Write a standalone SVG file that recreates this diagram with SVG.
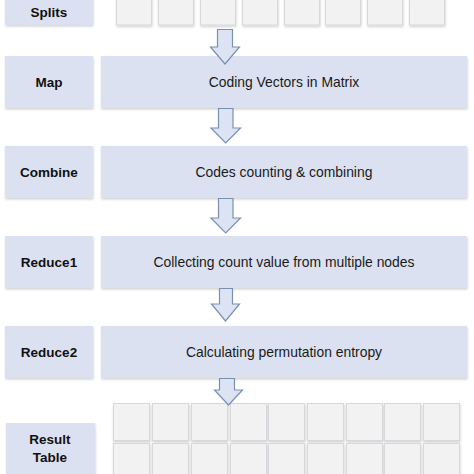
<svg xmlns="http://www.w3.org/2000/svg" width="474" height="474" viewBox="0 0 474 474">
<defs>
<filter id="sh" x="-10%" y="-10%" width="120%" height="130%">
<feDropShadow dx="0.5" dy="1.5" stdDeviation="1" flood-color="#000" flood-opacity="0.18"/>
</filter>
</defs>
<style>
.box{fill:#dbe1f0;filter:url(#sh)}
.cell{fill:#f2f2f3;stroke:#d6d8dc;stroke-width:1;filter:url(#sh)}
.arr{fill:#dce4f3;stroke:#7a90b3;stroke-width:1.2;stroke-linejoin:miter}
.lbl{font-family:"Liberation Sans",Arial,sans-serif;font-weight:bold;font-size:13.5px;fill:#111;text-anchor:middle}
.txt{font-family:"Liberation Sans",Arial,sans-serif;font-size:13.9px;fill:#1a1a1a;text-anchor:middle}
</style>
<rect width="474" height="474" fill="#fff"/>
<g id="splits">
<rect class="box" x="5" y="-4" width="88" height="29"/>
<text class="lbl" x="49" y="17">Splits</text>
<rect class="cell" x="116.5" y="-2" width="35" height="27"/>
<rect class="cell" x="158.5" y="-2" width="35" height="27"/>
<rect class="cell" x="200.5" y="-2" width="35" height="27"/>
<rect class="cell" x="242.5" y="-2" width="35" height="27"/>
<rect class="cell" x="284.5" y="-2" width="35" height="27"/>
<rect class="cell" x="325.5" y="-2" width="35" height="27"/>
<rect class="cell" x="367.5" y="-2" width="35" height="27"/>
<rect class="cell" x="409.5" y="-2" width="35" height="27"/>
</g>
<g id="map">
<rect class="box" x="5" y="56" width="88" height="52"/>
<text class="lbl" x="49" y="87">Map</text>
<rect class="box" x="101" y="56" width="366" height="52"/>
<text class="txt" x="284" y="87">Coding Vectors in Matrix</text>
</g>
<g id="combine">
<rect class="box" x="5" y="146" width="88" height="52"/>
<text class="lbl" x="49" y="177">Combine</text>
<rect class="box" x="101" y="146" width="366" height="52"/>
<text class="txt" x="284" y="177">Codes counting &amp; combining</text>
</g>
<g id="reduce1">
<rect class="box" x="5" y="236" width="88" height="52"/>
<text class="lbl" x="49" y="267">Reduce1</text>
<rect class="box" x="101" y="236" width="366" height="52"/>
<text class="txt" x="284" y="267">Collecting count value from multiple nodes</text>
</g>
<g id="reduce2">
<rect class="box" x="5" y="326" width="88" height="52"/>
<text class="lbl" x="49" y="357">Reduce2</text>
<rect class="box" x="101" y="326" width="366" height="52"/>
<text class="txt" x="284" y="357">Calculating permutation entropy</text>
</g>
<g id="result">
<rect class="box" x="6" y="423" width="89" height="56"/>
<text class="lbl" x="50" y="444">Result</text>
<text class="lbl" x="50" y="462">Table</text>
<g id="grid">
<rect class="cell" x="113.5" y="403.5" width="36" height="37"/>
<rect class="cell" x="152.5" y="403.5" width="36" height="37"/>
<rect class="cell" x="191.5" y="403.5" width="36" height="37"/>
<rect class="cell" x="230.5" y="403.5" width="36" height="37"/>
<rect class="cell" x="268.5" y="403.5" width="36" height="37"/>
<rect class="cell" x="307.5" y="403.5" width="36" height="37"/>
<rect class="cell" x="346.5" y="403.5" width="36" height="37"/>
<rect class="cell" x="384.5" y="403.5" width="36" height="37"/>
<rect class="cell" x="423.5" y="403.5" width="36" height="37"/>
<rect class="cell" x="113.5" y="443.5" width="36" height="37"/>
<rect class="cell" x="152.5" y="443.5" width="36" height="37"/>
<rect class="cell" x="191.5" y="443.5" width="36" height="37"/>
<rect class="cell" x="230.5" y="443.5" width="36" height="37"/>
<rect class="cell" x="268.5" y="443.5" width="36" height="37"/>
<rect class="cell" x="307.5" y="443.5" width="36" height="37"/>
<rect class="cell" x="346.5" y="443.5" width="36" height="37"/>
<rect class="cell" x="384.5" y="443.5" width="36" height="37"/>
<rect class="cell" x="423.5" y="443.5" width="36" height="37"/>
</g>
</g>
<g id="connectors">
<path class="arr" d="M217.5,29.5 H232.5 V47 H239.5 L225,64 L210.5,47 H217.5 Z"/>
<path class="arr" d="M218.5,108.5 H233 V128 H240.5 L225.7,143 L211,128 H218.5 Z"/>
<path class="arr" d="M218.5,198.5 H233 V218 H240.5 L225.7,233 L211,218 H218.5 Z"/>
<path class="arr" d="M219.5,288.5 H232.5 V304 H239.5 L225.5,321 L211.5,304 H219.5 Z"/>
<path class="arr" d="M219.5,378.5 H234.5 V390 H242.5 L228.5,405 L214.5,390 H219.5 Z"/>
</g>
</svg>
